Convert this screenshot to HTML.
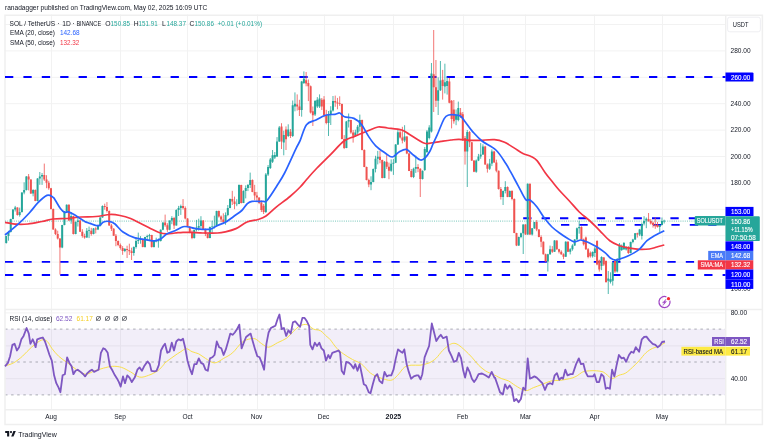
<!DOCTYPE html><html><head><meta charset="utf-8"><style>html,body{margin:0;padding:0;background:#fff;width:768px;height:444px;overflow:hidden}svg{display:block;will-change:transform}text{font-family:"Liberation Sans", sans-serif}</style></head><body>
<svg width="768" height="444" viewBox="0 0 768 444">
<rect width="768" height="444" fill="#ffffff"/>
<text x="5" y="10.4" font-size="6.6" fill="#131722">ranadagger published on TradingView.com, May 02, 2025 16:09 UTC</text>
<path d="M51.5 14.5V409.5 M120.5 14.5V409.5 M187.5 14.5V409.5 M257.5 14.5V409.5 M324.5 14.5V409.5 M393.5 14.5V409.5 M463.5 14.5V409.5 M525.5 14.5V409.5 M594.5 14.5V409.5 M662.5 14.5V409.5 M4.5 288.50H725.5 M4.5 262.10H725.5 M4.5 235.70H725.5 M4.5 209.30H725.5 M4.5 182.90H725.5 M4.5 156.50H725.5 M4.5 130.10H725.5 M4.5 103.70H725.5 M4.5 77.30H725.5 M4.5 50.90H725.5 M4.5 24.50H725.5 M4.5 312.90H725.5 M4.5 345.90H725.5 M4.5 378.70H725.5" stroke="#f2f2f2" stroke-width="1" fill="none"/>
<rect x="5.0" y="329.1" width="720.5" height="65.8" fill="#7e57c2" fill-opacity="0.1"/>
<path d="M5.0 329.1H725.5" stroke="#787b86" stroke-opacity="0.6" stroke-width="1" stroke-dasharray="2.5 3.6" fill="none"/>
<path d="M5.0 362.0H725.5" stroke="#787b86" stroke-opacity="0.6" stroke-width="1" stroke-dasharray="2.5 3.6" fill="none"/>
<path d="M5.0 394.9H725.5" stroke="#787b86" stroke-opacity="0.6" stroke-width="1" stroke-dasharray="2.5 3.6" fill="none"/>
<path d="M5 15.2H762.4V424.4H5Z M725.7 15.2V424.4 M5 309.5H762.4 M5 409.7H762.4" stroke="#efefef" stroke-width="1.5" fill="none"/>
<path d="M5.0 221.1H725.5" stroke="#089981" stroke-opacity="0.7" stroke-width="0.8" stroke-dasharray="1 1.2" fill="none"/>
<path d="M5 77.00H725.5" stroke="#0000ff" stroke-width="1.8" stroke-dasharray="8.3 10.1" fill="none"/>
<path d="M523.2 218.24H725.5" stroke="#0000ff" stroke-width="1.8" stroke-dasharray="8.3 10.1" fill="none"/>
<path d="M561 224.84H725.5" stroke="#0000ff" stroke-width="1.8" stroke-dasharray="8.3 10.1" fill="none"/>
<path d="M5 261.80H725.5" stroke="#0000ff" stroke-width="1.8" stroke-dasharray="8.3 10.1" fill="none"/>
<path d="M5 275.00H725.5" stroke="#0000ff" stroke-width="1.8" stroke-dasharray="8.3 10.1" fill="none"/>
<path d="M6.24 235.8V243.6 M8.48 230.8V240.7 M10.72 218.7V232.5 M12.95 209.2V219.4 M15.19 205.9V211.5 M19.67 207.6V216.6 M21.91 192.3V212.6 M24.14 182.3V194.3 M26.38 176.1V190.5 M33.1 189.2V196.3 M37.57 178.1V201.4 M39.81 172.0V184.8 M42.05 173.0V184.9 M62.19 224.8V248.2 M64.43 211.0V225.3 M66.67 204.4V211.9 M71.14 212.0V223.8 M75.62 221.5V234.3 M77.86 216.5V226.5 M86.81 228.0V237.9 M89.05 226.6V238.1 M93.52 228.0V234.4 M98.0 224.8V230.1 M100.24 217.2V226.5 M102.47 205.4V217.7 M124.85 248.0V252.2 M133.81 246.4V255.7 M136.04 237.3V248.6 M138.28 232.6V244.0 M140.52 236.1V243.7 M145.0 236.8V247.6 M147.23 234.7V240.9 M149.47 233.8V241.2 M153.95 240.7V247.5 M156.19 237.7V242.3 M158.42 238.5V247.7 M160.66 229.4V241.5 M162.9 222.4V230.3 M169.61 220.4V230.3 M171.85 216.2V224.2 M176.33 209.3V225.7 M178.57 205.9V216.0 M180.8 204.6V214.9 M194.23 229.8V238.6 M196.47 219.9V231.5 M198.71 218.7V230.7 M200.95 216.2V228.1 M209.9 226.5V238.3 M212.14 220.7V233.7 M214.37 215.7V228.5 M216.61 210.7V226.5 M225.56 212.4V224.8 M227.8 205.0V216.2 M230.04 198.5V208.3 M236.75 199.2V206.2 M238.99 184.4V204.2 M243.47 190.3V203.1 M245.71 185.4V198.4 M247.94 184.0V191.1 M250.18 172.6V188.0 M265.85 173.0V213.0 M268.09 165.0V176.0 M270.32 158.0V169.0 M272.56 150.0V163.0 M274.8 152.0V159.0 M277.04 137.1V157.0 M279.28 126.0V142.0 M283.75 130.7V155.3 M288.23 124.3V137.1 M292.7 100.5V137.0 M294.94 92.4V111.3 M301.66 80.9V116.7 M303.89 71.4V84.0 M315.08 100.0V116.0 M317.32 97.1V108.0 M319.56 94.4V108.0 M328.51 111.0V136.0 M330.75 106.2V125.0 M332.99 96.0V111.6 M346.42 120.9V148.2 M348.65 113.5V127.5 M355.37 129.7V136.9 M357.61 125.0V134.4 M359.84 114.6V131.4 M371.03 176.3V190.2 M373.27 168.5V182.3 M375.51 155.8V172.4 M377.75 150.9V164.4 M384.46 161.1V178.2 M391.18 159.4V171.8 M393.41 159.1V174.9 M395.65 144.1V163.1 M397.89 129.3V145.0 M404.6 125.2V142.1 M413.56 167.7V178.1 M415.79 155.7V172.9 M422.51 170.5V179.5 M424.75 147.0V171.0 M426.98 130.0V153.0 M429.22 125.2V139.4 M431.46 63.0V132.5 M438.17 77.3V115.0 M440.41 61.0V91.0 M444.89 63.7V93.4 M447.13 77.3V94.6 M456.08 109.5V125.2 M458.32 101.6V121.3 M467.27 130.0V187.0 M476.22 159.5V172.8 M478.46 153.9V161.1 M480.7 143.1V158.8 M482.93 144.3V155.0 M489.65 158.9V170.0 M491.89 149.4V166.1 M503.08 190.4V205.0 M505.31 181.2V193.4 M509.79 190.4V197.2 M518.74 236.6V246.0 M520.98 232.7V238.2 M523.22 224.3V254.0 M527.69 183.4V234.9 M532.17 228.0V235.5 M534.41 221.9V228.9 M547.84 253.8V271.5 M550.07 245.6V254.9 M554.55 240.1V252.0 M565.74 241.2V256.9 M570.22 248.1V254.4 M572.45 244.2V250.7 M574.69 239.0V245.9 M576.93 227.5V239.5 M579.17 220.7V233.7 M592.6 251.4V257.6 M594.83 247.0V257.0 M601.55 256.3V270.2 M608.26 271.0V294.0 M610.5 272.3V283.5 M612.74 261.8V285.6 M617.21 258.0V272.5 M619.45 243.0V261.0 M621.69 244.5V251.0 M623.93 242.0V250.0 M626.17 246.2V250.5 M630.64 241.6V253.4 M632.88 238.8V243.3 M635.12 233.0V240.0 M639.59 228.9V236.1 M641.83 222.5V239.5 M644.07 216.2V225.4 M646.31 217.5V228.2 M659.74 225.0V232.0 M661.97 217.5V225.3 M664.21 219.7V223.5" stroke="#26a69a" stroke-width="0.8" fill="none"/>
<path d="M17.43 207.3V215.6 M28.62 174.0V190.4 M30.86 179.3V194.0 M35.33 189.4V201.2 M44.29 163.6V181.0 M46.52 175.2V188.2 M48.76 180.8V189.8 M51.0 187.9V209.5 M53.24 208.5V229.8 M55.48 228.3V235.0 M57.71 230.7V239.5 M59.95 238.2V274.6 M68.9 204.3V220.8 M73.38 215.7V234.5 M80.09 219.9V232.0 M82.33 229.2V237.7 M84.57 233.7V238.7 M91.28 227.9V235.7 M95.76 227.2V233.4 M104.71 203.7V209.7 M106.95 202.1V212.5 M109.19 210.4V225.8 M111.43 223.8V231.0 M113.66 228.1V236.0 M115.9 234.0V246.2 M118.14 240.4V246.2 M120.38 243.5V249.6 M122.62 246.1V254.8 M127.09 245.7V258.0 M129.33 243.7V255.0 M131.57 247.7V260.0 M142.76 238.5V247.3 M151.71 234.8V247.6 M165.14 214.6V226.8 M167.38 223.2V231.9 M174.09 216.9V229.0 M183.04 199.1V209.4 M185.28 206.4V219.4 M187.52 218.2V227.2 M189.76 226.1V233.2 M191.99 230.3V239.2 M203.18 220.1V229.3 M205.42 228.5V236.1 M207.66 233.7V238.5 M218.85 210.5V217.6 M221.09 215.4V222.2 M223.33 213.3V223.7 M232.28 190.8V205.0 M234.52 196.6V209.2 M241.23 184.7V203.5 M252.42 179.4V192.2 M254.66 184.8V200.2 M256.9 191.9V200.9 M259.13 197.4V204.1 M261.37 200.3V212.0 M263.61 204.0V214.0 M281.51 123.2V149.0 M285.99 126.4V150.0 M290.47 129.0V138.0 M297.18 94.4V110.6 M299.42 99.8V116.0 M306.13 72.0V86.3 M308.37 79.5V101.1 M310.61 85.5V113.5 M312.85 106.5V126.0 M321.8 98.0V110.0 M324.04 96.1V117.2 M326.27 109.8V124.3 M335.23 95.6V106.8 M337.46 97.9V109.3 M339.7 96.3V105.9 M341.94 103.6V139.4 M344.18 135.1V149.1 M350.89 119.8V133.8 M353.13 130.0V142.6 M362.08 119.6V150.4 M364.32 149.4V167.2 M366.56 166.6V180.4 M368.8 178.7V187.2 M379.99 150.9V163.3 M382.22 159.6V178.4 M386.7 154.7V169.0 M388.94 162.6V179.2 M400.13 130.5V138.5 M402.37 126.8V143.4 M406.84 136.2V154.2 M409.08 152.9V171.1 M411.32 169.0V177.5 M418.03 164.2V172.2 M420.27 168.2V197.0 M433.7 30.0V112.0 M435.94 60.0V107.0 M442.65 69.9V99.6 M449.36 77.9V103.3 M451.6 100.0V128.4 M453.84 100.0V123.7 M460.55 108.0V118.0 M462.79 112.0V141.0 M465.03 136.0V164.6 M469.51 131.1V147.1 M471.74 141.9V161.0 M473.98 160.3V172.2 M485.17 145.8V164.8 M487.41 163.4V172.6 M494.12 150.8V162.8 M496.36 159.7V172.3 M498.6 170.5V189.6 M500.84 187.0V199.5 M507.55 186.4V197.2 M512.03 190.2V200.3 M514.27 198.4V233.2 M516.5 232.8V246.1 M525.46 224.2V234.9 M529.93 183.5V235.0 M536.65 220.1V231.2 M538.88 229.1V237.3 M541.12 235.3V247.2 M543.36 241.4V254.6 M545.6 253.6V261.8 M552.31 246.1V252.9 M556.79 240.3V249.8 M559.03 248.8V253.4 M561.26 250.3V254.9 M563.5 253.3V259.2 M567.98 241.2V252.1 M581.41 226.3V239.5 M583.64 238.6V245.5 M585.88 236.5V250.0 M588.12 248.0V258.3 M590.36 251.4V257.6 M597.07 240.2V265.3 M599.31 259.7V271.6 M603.79 257.0V266.0 M606.02 260.4V282.8 M614.98 259.7V273.0 M628.4 246.1V253.9 M637.36 232.7V237.6 M648.55 213.0V221.6 M650.78 219.0V224.5 M653.02 221.6V227.6 M655.26 217.5V228.8 M657.5 221.9V227.6" stroke="#ef5350" stroke-width="0.8" fill="none"/>
<path d="M6.24 236.0V243.0 M8.48 232.0V236.0 M10.72 219.0V232.0 M12.95 209.6V219.0 M15.19 207.5V209.6 M19.67 212.0V215.0 M21.91 192.5V212.0 M24.14 190.0V192.5 M26.38 176.4V190.0 M33.1 190.0V193.5 M37.57 178.5V201.0 M39.81 176.4V178.5 M42.05 175.0V176.4 M62.19 225.0V247.6 M64.43 211.5V225.0 M66.67 204.8V211.5 M71.14 216.0V220.5 M75.62 222.0V234.0 M77.86 220.5V222.0 M86.81 230.7V237.4 M89.05 230.3V231.0 M93.52 228.4V234.0 M98.0 226.0V229.5 M100.24 217.5V226.0 M102.47 206.0V217.5 M124.85 249.0V251.0 M133.81 247.0V253.0 M136.04 241.0V247.0 M138.28 239.9V241.0 M140.52 239.0V239.9 M145.0 237.0V247.0 M147.23 236.0V237.0 M149.47 235.0V236.0 M153.95 241.0V247.0 M156.19 240.7V241.3 M158.42 240.7V241.3 M160.66 229.7V241.0 M162.9 222.6V229.7 M169.61 220.6V229.7 M171.85 218.1V220.6 M176.33 210.0V225.6 M178.57 207.9V210.0 M180.8 206.0V207.9 M194.23 230.0V238.0 M196.47 227.7V230.0 M198.71 226.0V227.7 M200.95 220.5V226.0 M209.9 227.0V238.0 M212.14 226.4V227.1 M214.37 225.9V226.6 M216.61 211.0V226.0 M225.56 215.0V222.0 M227.8 208.0V215.0 M230.04 199.0V208.0 M236.75 203.7V204.3 M238.99 185.0V204.0 M243.47 191.0V203.0 M245.71 188.1V191.0 M247.94 185.0V188.1 M250.18 180.0V185.0 M265.85 174.6V212.0 M268.09 167.0V174.6 M270.32 159.6V168.0 M272.56 155.3V161.8 M274.8 155.0V157.5 M277.04 141.4V156.4 M279.28 127.5V141.4 M283.75 135.0V142.5 M288.23 129.6V136.0 M292.7 105.2V136.0 M294.94 103.8V106.5 M301.66 81.5V110.0 M303.89 78.8V82.9 M315.08 101.1V114.6 M317.32 99.8V106.5 M319.56 98.4V106.5 M328.51 115.0V123.0 M330.75 110.5V115.0 M332.99 101.0V110.5 M346.42 121.5V148.0 M348.65 120.0V121.5 M355.37 132.6V135.7 M357.61 126.8V132.6 M359.84 120.0V126.8 M371.03 182.0V184.6 M373.27 169.0V182.0 M375.51 158.7V169.0 M377.75 156.7V158.7 M384.46 161.7V178.0 M391.18 163.8V170.8 M393.41 162.7V163.8 M395.65 144.5V162.7 M397.89 132.3V144.5 M404.6 136.4V140.4 M413.56 168.8V177.0 M415.79 167.0V168.8 M422.51 170.8V179.0 M424.75 148.9V170.0 M426.98 131.5V152.0 M429.22 127.6V137.9 M431.46 73.6V131.5 M438.17 90.3V100.8 M440.41 80.4V90.3 M444.89 82.3V86.6 M447.13 81.0V86.0 M456.08 115.0V119.7 M458.32 107.9V120.0 M467.27 132.0V151.4 M476.22 160.6V171.7 M478.46 156.5V160.6 M480.7 154.5V156.5 M482.93 146.4V154.5 M489.65 163.6V168.7 M491.89 151.4V163.6 M503.08 191.0V197.0 M505.31 187.0V191.0 M509.79 191.0V197.0 M518.74 236.9V245.5 M520.98 233.2V236.9 M523.22 224.5V233.2 M527.69 183.7V234.4 M532.17 228.2V234.4 M534.41 222.0V228.2 M547.84 254.2V261.6 M550.07 249.3V254.2 M554.55 240.6V251.7 M565.74 241.8V256.7 M570.22 249.3V251.7 M572.45 245.5V249.3 M574.69 239.4V245.5 M576.93 228.2V239.4 M579.17 227.0V228.2 M592.6 252.0V256.3 M594.83 248.6V253.0 M601.55 257.0V266.0 M608.26 278.6V280.7 M610.5 279.3V282.0 M612.74 262.5V280.7 M617.21 259.0V271.6 M619.45 244.4V260.4 M621.69 246.0V249.9 M623.93 243.0V249.3 M626.17 247.0V249.4 M630.64 242.0V253.0 M632.88 239.5V242.0 M635.12 233.3V239.5 M639.59 229.6V234.5 M641.83 224.1V236.0 M644.07 221.0V223.5 M646.31 218.7V220.6 M659.74 225.0V227.0 M661.97 221.0V225.0 M664.21 220.8V221.6" stroke="#26a69a" stroke-width="2" fill="none"/>
<path d="M17.43 207.5V215.0 M28.62 176.4V179.6 M30.86 179.6V193.5 M35.33 190.0V201.0 M44.29 175.0V179.6 M46.52 179.6V182.8 M48.76 182.8V188.2 M51.0 188.2V209.0 M53.24 209.0V229.5 M55.48 229.5V234.0 M57.71 234.0V238.5 M59.95 238.5V247.6 M68.9 204.8V220.5 M73.38 216.0V234.0 M80.09 220.5V231.8 M82.33 231.8V236.0 M84.57 236.0V237.4 M91.28 230.7V234.0 M95.76 228.4V229.5 M104.71 206.0V207.0 M106.95 207.0V211.0 M109.19 211.0V225.6 M111.43 225.6V228.7 M113.66 228.7V235.8 M115.9 235.8V240.9 M118.14 240.9V245.0 M120.38 245.0V248.0 M122.62 248.0V251.0 M127.09 249.0V250.0 M129.33 250.0V251.3 M131.57 251.3V253.0 M142.76 239.0V247.0 M151.71 235.0V247.0 M165.14 222.6V225.3 M167.38 225.3V229.7 M174.09 218.1V225.6 M183.04 206.0V208.0 M185.28 208.0V218.5 M187.52 218.5V226.7 M189.76 226.7V233.0 M191.99 233.0V238.0 M203.18 220.5V228.9 M205.42 228.9V234.0 M207.66 234.0V238.0 M218.85 211.0V216.5 M221.09 216.5V219.5 M223.33 219.5V222.0 M232.28 199.0V201.5 M234.52 201.5V204.0 M241.23 185.0V203.0 M252.42 180.0V192.0 M254.66 192.0V195.6 M256.9 195.6V197.6 M259.13 197.6V203.0 M261.37 202.4V210.0 M263.61 205.7V212.0 M281.51 126.4V141.4 M285.99 129.6V139.3 M290.47 131.8V136.0 M297.18 104.5V106.5 M299.42 106.5V110.0 M306.13 80.2V83.6 M308.37 82.9V86.3 M310.61 86.3V112.6 M312.85 111.3V115.3 M321.8 99.8V106.5 M324.04 99.4V115.0 M326.27 115.0V123.0 M335.23 101.0V102.6 M337.46 102.6V103.4 M339.7 103.3V104.0 M341.94 104.0V139.0 M344.18 139.0V148.0 M350.89 120.0V132.6 M353.13 132.6V135.7 M362.08 120.0V150.0 M364.32 150.0V167.0 M366.56 167.0V180.0 M368.8 180.0V184.6 M379.99 156.7V160.0 M382.22 160.0V178.0 M386.7 161.7V166.8 M388.94 166.8V170.8 M400.13 132.3V137.4 M402.37 137.4V140.4 M406.84 136.4V153.6 M409.08 153.6V171.0 M411.32 171.0V177.0 M418.03 167.0V168.8 M420.27 168.8V179.0 M433.7 74.2V87.2 M435.94 87.2V100.8 M442.65 79.8V86.0 M449.36 81.6V102.7 M451.6 100.8V118.9 M453.84 109.5V121.3 M460.55 112.6V115.8 M462.79 114.2V140.0 M465.03 138.0V151.4 M469.51 132.0V142.3 M471.74 142.3V160.6 M473.98 160.6V171.7 M485.17 146.4V164.6 M487.41 164.6V168.7 M494.12 151.4V162.6 M496.36 162.6V170.7 M498.6 170.7V189.0 M500.84 189.0V197.0 M507.55 187.0V197.0 M512.03 191.0V199.0 M514.27 199.0V233.0 M516.5 233.0V245.5 M525.46 224.5V234.4 M529.93 183.7V234.4 M536.65 222.0V229.5 M538.88 229.5V236.9 M541.12 236.9V241.8 M543.36 241.8V254.2 M545.6 254.2V261.6 M552.31 249.3V251.7 M556.79 240.6V249.3 M559.03 249.3V251.7 M561.26 251.7V254.2 M563.5 254.2V256.7 M567.98 241.8V251.7 M581.41 227.0V239.4 M583.64 239.4V244.3 M585.88 237.4V249.3 M588.12 249.3V257.0 M590.36 252.8V256.3 M597.07 240.9V264.6 M599.31 260.4V269.5 M603.79 257.6V264.6 M606.02 261.0V282.0 M614.98 260.4V271.6 M628.4 247.0V253.0 M637.36 233.3V234.5 M648.55 219.0V221.3 M650.78 221.0V223.5 M653.02 222.8V225.0 M655.26 224.7V226.3 M657.5 224.7V227.0" stroke="#ef5350" stroke-width="2" fill="none"/>
<path d="M5.0 222.3C7.0 222.6 12.9 223.9 16.7 224.2C20.5 224.5 23.8 224.4 28.0 224.0C32.2 223.6 37.8 222.3 42.0 221.5C46.2 220.7 48.8 219.5 53.0 219.0C57.2 218.5 62.3 218.8 67.0 218.5C71.7 218.2 76.2 217.3 81.0 217.0C85.8 216.7 91.2 216.9 96.0 216.5C100.8 216.1 106.0 214.7 110.0 214.5C114.0 214.3 116.6 214.8 120.0 215.5C123.4 216.2 127.1 217.2 130.6 218.5C134.0 219.8 137.3 221.9 140.7 223.6C144.1 225.3 147.8 227.2 150.9 228.7C154.0 230.2 156.3 231.7 159.0 232.5C161.7 233.3 164.3 233.7 167.0 233.8C169.7 233.9 172.3 233.2 175.0 233.0C177.7 232.8 179.7 232.4 183.0 232.3C186.3 232.2 191.3 232.5 195.0 232.6C198.7 232.7 201.2 232.9 205.0 233.0C208.8 233.1 214.2 233.2 217.6 233.0C221.0 232.8 222.3 232.5 225.4 231.8C228.5 231.1 232.4 230.2 236.0 228.6C239.6 227.0 243.3 223.5 247.0 222.0C250.7 220.5 254.8 220.5 258.0 219.5C261.2 218.5 262.9 218.1 266.0 216.0C269.1 213.9 272.5 210.1 276.5 206.8C280.5 203.6 286.1 199.8 290.0 196.5C293.9 193.2 297.5 189.8 300.2 187.0C302.9 184.2 303.4 183.2 306.2 180.0C309.0 176.8 312.9 172.2 317.0 168.0C321.1 163.8 326.0 159.1 330.5 154.6C335.0 150.1 340.0 144.0 344.0 141.0C348.0 138.0 350.4 138.2 354.5 136.4C358.6 134.7 364.7 132.1 368.6 130.5C372.5 128.9 374.9 127.4 378.0 127.0C381.1 126.6 383.6 127.5 387.5 128.0C391.4 128.5 398.1 129.0 401.7 130.0C405.2 131.0 406.0 132.3 408.8 134.0C411.6 135.7 415.5 138.4 418.3 140.0C421.1 141.6 422.6 143.1 425.4 143.5C428.2 143.9 432.4 142.7 435.0 142.3C437.6 142.0 438.3 141.8 441.0 141.4C443.7 141.0 448.0 140.3 451.0 140.0C454.0 139.7 456.0 139.3 459.2 139.4C462.4 139.5 466.5 140.2 470.0 140.3C473.5 140.5 476.2 140.4 480.3 140.3C484.4 140.2 490.4 139.4 494.5 139.7C498.6 140.0 501.2 140.9 504.6 142.3C508.0 143.8 511.7 146.5 514.8 148.4C517.8 150.3 520.2 152.2 522.9 153.5C525.6 154.8 528.6 155.3 531.0 156.5C533.4 157.7 534.6 157.9 537.0 160.6C539.4 163.3 542.5 169.0 545.2 172.7C547.9 176.4 550.9 180.0 553.3 183.0C555.7 186.0 556.8 187.5 559.5 190.5C562.2 193.5 566.1 197.4 569.4 201.0C572.7 204.6 575.9 208.7 579.3 212.0C582.7 215.3 586.6 217.9 590.0 221.0C593.4 224.1 596.6 227.5 599.9 230.8C603.2 234.1 606.5 238.2 609.8 240.7C613.1 243.2 616.4 244.4 619.7 245.7C623.0 246.9 626.3 247.6 629.6 248.2C632.9 248.8 636.2 249.3 639.5 249.4C642.8 249.5 646.5 249.4 649.4 249.0C652.3 248.6 654.3 247.7 656.8 247.0C659.3 246.3 663.0 245.3 664.3 245.0" stroke="#f23645" stroke-width="1.7" fill="none" stroke-linejoin="round"/>
<path d="M5.0 235.0C7.1 233.3 13.6 228.4 17.6 224.7C21.7 221.0 25.9 216.7 29.3 213.0C32.7 209.3 35.1 205.6 38.0 202.7C40.9 199.8 44.4 196.4 46.9 195.4C49.4 194.4 51.4 196.2 52.7 196.9C54.1 197.6 53.7 197.8 55.0 199.7C56.3 201.6 58.8 206.4 60.4 208.5C62.0 210.6 63.1 211.7 64.5 212.3C65.8 212.9 66.9 211.5 68.5 211.9C70.1 212.3 72.2 213.6 74.0 214.6C75.8 215.6 77.5 216.9 79.3 218.0C81.1 219.1 82.9 220.5 84.7 221.4C86.5 222.3 88.3 222.7 90.1 223.4C91.9 224.1 93.9 225.1 95.5 225.4C97.1 225.7 98.2 226.0 99.6 225.4C100.9 224.8 102.0 222.7 103.6 222.0C105.2 221.3 107.1 221.1 109.0 221.4C110.9 221.7 112.7 222.2 115.0 224.0C117.3 225.8 119.7 229.7 123.0 232.0C126.3 234.3 131.0 236.6 135.0 237.9C139.0 239.2 143.5 239.3 146.8 239.8C150.1 240.3 152.6 241.1 155.0 240.9C157.4 240.7 159.0 240.0 161.0 238.8C163.0 237.6 164.7 235.2 167.0 233.8C169.3 232.5 172.3 231.9 175.0 230.7C177.7 229.5 180.7 227.3 183.0 226.7C185.3 226.1 186.9 226.7 189.0 227.0C191.1 227.3 192.4 228.2 195.8 228.6C199.2 229.0 206.1 229.8 209.7 229.3C213.3 228.8 215.0 226.6 217.6 225.4C220.2 224.2 222.8 223.8 225.4 222.3C228.0 220.9 230.6 218.7 233.3 216.7C236.0 214.7 239.5 212.6 241.8 210.5C244.1 208.4 245.3 205.5 247.0 204.0C248.7 202.5 249.3 201.8 252.0 201.4C254.7 201.0 260.5 201.6 263.0 201.4C265.5 201.2 264.8 203.0 267.0 200.5C269.2 198.0 273.6 191.1 276.5 186.5C279.4 181.9 281.4 179.3 284.6 173.0C287.9 166.7 293.4 154.0 296.0 148.6C298.6 143.2 298.4 144.4 300.2 140.4C301.9 136.4 303.9 128.1 306.5 124.7C309.1 121.3 312.8 121.6 316.0 120.0C319.2 118.4 322.3 116.2 325.5 115.2C328.7 114.2 332.6 114.7 335.0 114.3C337.4 113.9 338.1 112.6 339.7 113.0C341.3 113.4 342.0 115.9 344.4 116.8C346.8 117.7 351.0 117.1 353.9 118.4C356.8 119.7 359.1 121.5 361.5 124.5C363.9 127.5 366.2 132.8 368.6 136.4C371.0 140.0 372.9 143.0 375.7 145.8C378.5 148.6 382.4 151.1 385.2 153.0C388.0 154.9 389.9 157.2 392.3 157.0C394.7 156.8 397.0 153.0 399.4 151.7C401.8 150.4 404.1 148.8 406.5 149.4C408.9 150.0 411.2 153.5 413.6 155.3C416.0 157.1 418.6 159.6 420.6 160.0C422.6 160.4 423.8 159.1 425.4 157.6C427.0 156.1 428.7 153.3 430.0 151.0C431.3 148.7 431.8 146.6 433.0 144.0C434.2 141.4 435.2 139.4 437.1 135.2C439.0 131.0 442.2 122.0 444.2 118.6C446.2 115.2 446.9 115.6 448.9 115.0C450.9 114.4 454.0 114.8 456.0 115.0C458.0 115.2 459.1 115.1 460.7 116.3C462.3 117.5 463.5 119.7 465.5 122.2C467.5 124.8 469.9 128.5 472.6 131.6C475.4 134.7 478.1 137.9 482.0 141.0C485.9 144.1 491.9 146.2 495.9 150.0C499.9 153.8 503.3 159.8 505.8 163.5C508.3 167.2 508.7 168.5 510.8 172.2C512.9 175.9 515.7 181.3 518.2 185.8C520.7 190.3 523.6 197.0 525.6 199.4C527.6 201.8 528.1 198.7 530.0 200.0C531.9 201.3 534.6 203.9 537.0 207.0C539.4 210.1 542.1 215.0 544.6 218.3C547.1 221.6 549.5 224.6 552.0 227.0C554.5 229.4 557.0 231.2 559.5 233.0C562.0 234.8 564.5 236.5 567.0 238.0C569.5 239.5 572.0 241.5 574.3 241.8C576.5 242.1 578.9 240.1 580.5 240.0C582.1 239.9 582.6 240.5 584.2 241.0C585.8 241.5 587.9 242.2 590.0 243.2C592.1 244.2 594.5 245.4 597.0 247.0C599.5 248.6 603.1 251.1 605.3 252.9C607.5 254.7 608.7 256.8 610.4 258.0C612.1 259.2 613.8 260.0 615.5 260.1C617.2 260.2 618.5 259.5 620.5 258.8C622.5 258.1 625.0 257.2 627.3 256.2C629.5 255.2 631.9 254.2 634.0 252.9C636.1 251.6 637.8 250.6 640.0 248.6C642.2 246.6 644.6 242.8 647.0 240.7C649.4 238.6 651.5 237.5 654.4 235.8C657.3 234.2 662.6 231.6 664.3 230.8" stroke="#2962ff" stroke-width="1.7" fill="none" stroke-linejoin="round"/>
<path d="M5.0 365.9C6.4 365.4 10.6 364.5 13.5 362.9C16.4 361.3 19.5 358.8 22.5 356.2C25.5 353.5 28.3 349.9 31.5 347.2C34.7 344.5 39.0 340.9 41.7 340.0C44.3 339.0 45.6 340.1 47.3 341.5C49.0 342.9 49.9 345.8 51.8 348.3C53.7 350.7 55.9 353.7 58.6 356.2C61.2 358.6 64.6 360.7 67.6 362.9C70.6 365.2 73.6 367.8 76.6 369.7C79.6 371.6 82.6 374.0 85.6 374.2C88.6 374.4 91.6 371.8 94.6 370.8C97.6 369.8 100.6 368.9 103.6 368.1C106.6 367.4 109.6 366.4 112.6 366.3C115.6 366.2 118.6 366.5 121.6 367.4C124.6 368.4 127.6 370.3 130.6 371.9C133.6 373.6 136.6 376.6 139.6 377.1C142.6 377.7 145.6 376.4 148.6 375.3C151.7 374.3 155.2 372.5 157.7 370.8C160.1 369.1 162.1 366.5 163.3 365.2C164.5 363.9 163.2 364.4 165.0 362.9C166.8 361.4 171.4 358.0 174.0 356.2C176.6 354.3 178.7 352.9 180.8 351.7C182.8 350.4 184.5 348.7 186.4 348.7C188.3 348.7 190.0 350.8 192.0 351.7C194.1 352.5 196.5 352.8 198.8 353.9C201.0 355.0 202.9 356.9 205.5 358.4C208.2 359.9 211.5 362.9 214.5 362.9C217.6 362.9 220.6 360.1 223.6 358.4C226.6 356.7 229.6 355.4 232.6 352.8C235.6 350.2 238.9 344.9 241.6 342.7C244.2 340.4 246.1 339.9 248.3 339.3C250.6 338.6 252.8 338.1 255.1 338.8C257.3 339.6 259.6 342.4 261.8 343.8C264.1 345.2 266.0 347.3 268.6 347.2C271.2 347.0 274.6 344.2 277.6 342.7C280.6 341.2 284.0 340.0 286.6 338.2C289.2 336.3 291.1 333.5 293.4 331.4C295.6 329.3 297.9 326.9 300.1 325.8C302.4 324.6 304.6 324.1 306.9 324.6C309.1 325.2 311.4 328.1 313.6 329.1C315.9 330.2 318.2 329.4 320.4 330.7C322.7 332.0 325.6 335.6 327.2 337.0C328.8 338.5 328.4 337.4 330.0 339.3C331.6 341.2 334.5 345.8 336.8 348.3C339.0 350.7 340.9 352.0 343.5 353.9C346.1 355.8 349.5 357.9 352.5 359.5C355.5 361.2 358.5 361.8 361.5 364.1C364.5 366.3 367.5 370.8 370.5 373.1C373.5 375.3 376.2 376.4 379.5 377.6C382.9 378.8 387.8 380.6 390.8 380.3C393.8 379.9 395.3 377.5 397.6 375.3C399.8 373.2 402.1 369.1 404.3 367.4C406.6 365.7 408.5 365.6 411.1 365.2C413.7 364.8 417.1 365.6 420.1 365.2C423.1 364.8 426.5 364.1 429.1 362.9C431.7 361.8 433.6 360.5 435.9 358.4C438.1 356.4 440.4 352.8 442.6 350.5C444.9 348.3 447.5 346.1 449.4 344.9C451.2 343.7 452.4 343.3 453.9 343.3C455.4 343.3 456.5 343.7 458.4 344.9C460.3 346.1 462.9 348.5 465.1 350.5C467.4 352.6 469.6 354.9 471.9 357.3C474.1 359.7 476.4 362.9 478.6 365.2C480.9 367.4 483.2 369.3 485.4 370.8C487.7 372.3 490.6 373.4 492.2 374.2C493.8 374.9 493.4 374.6 495.0 375.3C496.6 376.1 499.5 377.8 501.8 378.7C504.0 379.6 506.3 379.8 508.5 380.9C510.8 382.1 512.5 383.8 515.3 385.5C518.1 387.1 522.4 390.3 525.4 390.6C528.4 391.0 530.5 388.8 533.3 387.7C536.1 386.7 539.3 385.5 542.3 384.3C545.3 383.2 548.3 381.6 551.3 380.9C554.3 380.3 557.3 380.6 560.3 380.3C563.3 379.9 566.7 379.3 569.3 378.7C572.0 378.1 573.8 377.6 576.1 376.4C578.3 375.3 580.6 372.9 582.8 371.9C585.1 371.0 587.3 371.0 589.6 370.8C591.8 370.6 594.1 370.6 596.4 370.8C598.6 371.0 601.2 371.2 603.1 371.9C605.0 372.7 606.1 374.2 607.6 375.3C609.1 376.4 610.2 378.7 612.1 378.7C614.0 378.7 616.6 376.3 618.9 375.3C621.1 374.4 623.4 374.4 625.6 373.1C627.9 371.7 630.1 369.5 632.4 367.4C634.6 365.4 636.9 363.1 639.1 360.7C641.4 358.2 643.6 354.9 645.9 352.8C648.2 350.7 650.4 349.4 652.7 348.3C654.9 347.2 657.3 347.0 659.4 346.0C661.5 345.1 664.1 343.2 665.0 342.7" stroke="#f9e04b" stroke-width="1" fill="none" stroke-linejoin="round"/>
<polyline points="5.0,366.3 7.9,362.9 10.1,356.2 12.4,344.9 14.6,343.8 16.9,350.5 19.1,347.2 21.4,339.3 23.6,335.9 26.6,328.0 28.8,333.6 30.4,343.8 32.7,339.3 34.2,342.7 35.6,347.2 37.2,339.3 40.5,338.2 42.8,337.5 45.0,341.5 47.3,348.3 49.5,355.0 51.8,360.7 54.1,375.3 56.3,383.2 58.6,387.7 60.4,392.2 62.6,375.3 64.9,374.2 67.1,357.3 69.4,362.9 71.6,366.3 73.4,374.2 75.5,370.8 77.7,369.7 80.6,371.9 83.3,374.2 85.1,376.4 87.4,373.1 90.1,370.8 91.9,369.7 94.1,371.9 96.4,370.8 98.6,369.7 100.9,352.8 103.2,348.3 105.4,349.4 107.7,352.8 109.9,366.3 112.6,370.8 114.9,375.3 117.1,378.7 118.9,382.1 120.7,386.6 123.0,376.4 125.0,383.2 127.3,375.3 129.5,377.6 131.8,382.1 134.7,377.6 137.4,369.7 139.6,367.4 141.9,370.8 144.1,366.3 147.5,361.4 149.8,364.1 151.4,370.8 154.3,371.3 156.5,370.8 158.8,365.2 161.0,350.5 163.3,346.0 165.0,343.8 167.3,352.8 169.5,351.7 171.8,342.7 174.0,350.5 176.3,341.5 178.5,339.3 180.8,340.4 183.0,338.8 185.3,348.3 187.5,360.7 189.8,368.6 192.0,374.2 194.3,364.1 196.5,364.1 198.8,358.4 201.0,362.9 203.3,364.1 205.5,369.7 207.8,370.8 210.0,358.4 212.3,357.3 214.5,355.0 216.8,341.5 219.1,347.2 221.3,348.3 223.6,355.0 225.8,349.4 228.1,341.5 230.3,333.6 232.6,334.8 234.8,332.5 237.1,329.1 239.3,324.6 241.6,348.3 243.8,342.7 246.1,337.0 248.3,335.2 250.6,333.6 252.8,341.5 255.1,349.4 257.3,356.2 259.6,357.3 261.8,362.9 264.1,369.7 266.4,343.8 268.6,332.5 270.9,328.0 273.1,326.9 275.4,325.8 277.6,319.0 279.4,314.5 281.7,329.1 283.9,328.0 286.2,335.9 288.4,330.3 290.7,333.6 292.9,322.4 295.2,321.3 297.9,324.6 300.1,326.9 302.4,317.9 304.6,317.9 306.9,321.3 309.1,325.8 310.3,344.9 312.5,349.4 314.8,342.7 317.0,346.0 319.3,342.7 321.5,348.3 323.8,350.5 326.0,360.7 328.3,355.0 330.0,358.4 332.3,352.8 335.6,351.7 338.6,350.5 340.1,352.8 341.7,370.8 344.0,374.2 346.2,361.8 349.1,362.9 351.4,365.2 353.6,368.6 355.2,364.1 357.5,370.8 359.7,364.1 362.0,375.3 363.8,384.3 366.0,385.5 368.7,392.2 370.5,393.3 372.8,384.3 375.0,376.4 377.3,374.2 379.5,380.9 382.3,383.2 384.5,371.9 386.8,376.4 389.0,375.3 391.3,375.3 393.5,369.7 395.8,358.4 398.0,349.4 400.9,351.7 402.5,352.8 404.3,349.4 406.6,364.1 408.8,371.9 411.1,378.7 413.8,376.4 416.7,375.3 418.3,375.3 420.5,379.4 422.3,374.2 424.6,357.3 426.8,351.7 429.1,346.0 431.8,323.5 434.1,332.5 436.3,341.1 439.2,336.6 440.8,334.8 443.1,338.2 446.7,336.6 448.9,350.5 451.6,356.2 453.9,361.8 456.6,360.7 458.8,352.8 461.1,358.4 463.3,370.8 465.1,377.6 467.4,367.4 469.6,371.9 471.9,378.7 474.1,382.1 476.4,378.7 478.6,374.2 482.0,373.5 485.4,375.3 488.8,377.6 491.7,371.9 494.4,377.6 495.0,377.6 497.3,384.3 500.0,392.2 502.9,394.5 505.1,384.3 507.4,388.8 509.6,385.5 511.9,388.8 514.1,401.2 516.4,399.0 518.6,402.3 520.9,399.0 523.2,387.7 525.4,390.0 527.7,358.4 529.9,378.7 532.2,377.6 534.4,376.4 536.7,377.6 540.0,380.9 542.3,383.2 545.0,390.0 547.3,384.3 550.2,383.2 552.4,384.3 554.7,375.3 556.9,373.1 559.2,379.8 561.4,377.6 563.0,378.7 565.3,369.7 567.5,375.3 570.5,374.2 572.7,374.2 576.1,364.1 578.8,358.4 581.0,364.1 583.3,363.6 585.5,371.9 587.8,376.4 590.7,376.4 593.0,376.4 594.5,374.2 596.8,382.1 599.1,382.1 601.3,374.2 603.6,376.4 605.8,388.8 607.6,387.7 609.9,388.8 612.1,369.7 614.4,376.4 616.6,365.2 618.9,355.0 621.6,358.4 623.8,357.7 626.1,361.8 629.0,355.0 631.3,351.7 633.5,352.8 635.8,347.2 639.1,351.7 641.8,339.3 644.1,337.0 646.4,336.6 649.3,340.4 652.7,343.8 655.4,344.9 657.6,347.2 659.9,345.6 662.1,342.0 665.0,341.5" stroke="#7e57c2" stroke-width="1.8" fill="none" stroke-linejoin="round"/>
<text x="9.6" y="25.9" font-size="6.8" fill="#131722" textLength="45.5" lengthAdjust="spacingAndGlyphs">SOL / TetherUS</text>
<text x="58.4" y="25.9" font-size="6.8" fill="#131722" text-anchor="middle">·</text>
<text x="62.3" y="25.9" font-size="6.8" fill="#131722" textLength="8.5" lengthAdjust="spacingAndGlyphs">1D</text>
<text x="73.3" y="25.9" font-size="6.8" fill="#131722" text-anchor="middle">·</text>
<text x="76.4" y="25.9" font-size="6.8" fill="#131722" textLength="24.7" lengthAdjust="spacingAndGlyphs">BINANCE</text>
<text x="105.2" y="25.9" font-size="6.8" fill="#131722" textLength="5.3" lengthAdjust="spacingAndGlyphs">O</text>
<text x="110.6" y="25.9" font-size="6.8" fill="#26a69a" textLength="19.4" lengthAdjust="spacingAndGlyphs">150.85</text>
<text x="133.7" y="25.9" font-size="6.8" fill="#131722" textLength="4.9" lengthAdjust="spacingAndGlyphs">H</text>
<text x="138.6" y="25.9" font-size="6.8" fill="#26a69a" textLength="19.1" lengthAdjust="spacingAndGlyphs">151.91</text>
<text x="162" y="25.9" font-size="6.8" fill="#131722" textLength="3.9" lengthAdjust="spacingAndGlyphs">L</text>
<text x="166.4" y="25.9" font-size="6.8" fill="#26a69a" textLength="19.6" lengthAdjust="spacingAndGlyphs">148.37</text>
<text x="189.6" y="25.9" font-size="6.8" fill="#131722" textLength="4.8" lengthAdjust="spacingAndGlyphs">C</text>
<text x="194.6" y="25.9" font-size="6.8" fill="#26a69a" textLength="19.3" lengthAdjust="spacingAndGlyphs">150.86</text>
<text x="217.6" y="25.9" font-size="6.8" fill="#26a69a" textLength="44.5" lengthAdjust="spacingAndGlyphs">+0.01 (+0.01%)</text>
<text x="9.9" y="35.3" font-size="6.8" fill="#131722" textLength="45.1" lengthAdjust="spacingAndGlyphs">EMA (20, close)</text>
<text x="59.9" y="35.3" font-size="6.8" fill="#2962ff" textLength="19.8" lengthAdjust="spacingAndGlyphs">142.68</text>
<text x="9.9" y="45.0" font-size="6.8" fill="#131722" textLength="45.1" lengthAdjust="spacingAndGlyphs">SMA (50, close)</text>
<text x="59.9" y="45.0" font-size="6.8" fill="#f23645" textLength="19.4" lengthAdjust="spacingAndGlyphs">132.32</text>
<text x="9.5" y="321.1" font-size="6.8" fill="#131722" textLength="42.8" lengthAdjust="spacingAndGlyphs">RSI (14, close)</text>
<text x="55.9" y="321.1" font-size="6.8" fill="#7e57c2" textLength="16.6" lengthAdjust="spacingAndGlyphs">62.52</text>
<text x="76.6" y="321.1" font-size="6.8" fill="#f5cf22" textLength="16.2" lengthAdjust="spacingAndGlyphs">61.17</text>
<text x="98.3" y="321.1" font-size="6.8" fill="#2a2e39" text-anchor="middle">Ø</text>
<text x="107.3" y="321.1" font-size="6.8" fill="#2a2e39" text-anchor="middle">Ø</text>
<text x="115.9" y="321.1" font-size="6.8" fill="#2a2e39" text-anchor="middle">Ø</text>
<text x="124.5" y="321.1" font-size="6.8" fill="#2a2e39" text-anchor="middle">Ø</text>
<text x="730.6" y="26.70" font-size="7" fill="#131722" textLength="20" lengthAdjust="spacingAndGlyphs">300.00</text>
<text x="730.6" y="53.10" font-size="7" fill="#131722" textLength="20" lengthAdjust="spacingAndGlyphs">280.00</text>
<text x="730.6" y="105.90" font-size="7" fill="#131722" textLength="20" lengthAdjust="spacingAndGlyphs">240.00</text>
<text x="730.6" y="132.30" font-size="7" fill="#131722" textLength="20" lengthAdjust="spacingAndGlyphs">220.00</text>
<text x="730.6" y="158.70" font-size="7" fill="#131722" textLength="20" lengthAdjust="spacingAndGlyphs">200.00</text>
<text x="730.6" y="185.10" font-size="7" fill="#131722" textLength="20" lengthAdjust="spacingAndGlyphs">180.00</text>
<text x="730.6" y="211.50" font-size="7" fill="#131722" textLength="20" lengthAdjust="spacingAndGlyphs">160.00</text>
<text x="730.6" y="237.90" font-size="7" fill="#131722" textLength="20" lengthAdjust="spacingAndGlyphs">140.00</text>
<text x="730.6" y="290.70" font-size="7" fill="#131722" textLength="20" lengthAdjust="spacingAndGlyphs">100.00</text>
<text x="730.7" y="315.15" font-size="7" fill="#131722" textLength="16.5" lengthAdjust="spacingAndGlyphs">80.00</text>
<text x="730.7" y="380.95" font-size="7" fill="#131722" textLength="16.5" lengthAdjust="spacingAndGlyphs">40.00</text>
<rect x="727.6" y="17.2" width="32.8" height="14.6" rx="2.2" fill="#fff" stroke="#ececf0" stroke-width="0.9"/>
<text x="732.8" y="27" font-size="7" fill="#131722" textLength="15.6" lengthAdjust="spacingAndGlyphs">USDT</text>
<path d="M725.5 72.4H752.3Q753.5 72.4 753.5 73.60000000000001V80.39999999999999Q753.5 81.6 752.3 81.6H725.5Z" fill="#0000ff"/>
<text x="731.1" y="79.50" font-size="7" fill="#fff" textLength="19.2" lengthAdjust="spacingAndGlyphs" stroke="#fff" stroke-width="0.12">260.00</text>
<rect x="725.5" y="206.9" width="28.00" height="9.30" fill="#0000ff"/>
<text x="731.1" y="214.05" font-size="7" fill="#fff" textLength="19.2" lengthAdjust="spacingAndGlyphs" stroke="#fff" stroke-width="0.12">153.00</text>
<path d="M725.5 216.2H758.6Q759.8 216.2 759.8 217.4V239.9Q759.8 241.1 758.6 241.1H725.5Z" fill="#26a69a"/>
<text x="731.1" y="223.8" font-size="7" fill="#fff" textLength="19.2" lengthAdjust="spacingAndGlyphs" stroke="#fff" stroke-width="0.12">150.86</text>
<text x="731.1" y="232.0" font-size="7" fill="#fff" textLength="21.5" lengthAdjust="spacingAndGlyphs" stroke="#fff" stroke-width="0.12">+11.15%</text>
<text x="731.1" y="239.8" font-size="7" fill="#fff" textLength="24.6" lengthAdjust="spacingAndGlyphs" stroke="#fff" stroke-width="0.12">07:50:58</text>
<path d="M695.9 216.1H725.5V225.5H695.9Q694.7 225.5 694.7 224.3V217.3Q694.7 216.1 695.9 216.1Z" fill="#26a69a"/>
<text x="696.8" y="223.3" font-size="7" fill="#fff" textLength="26" lengthAdjust="spacingAndGlyphs" stroke="#fff" stroke-width="0.12">SOLUSDT</text>
<rect x="725.5" y="241.3" width="27.80" height="9.60" fill="#0000ff"/>
<text x="731.1" y="248.60" font-size="7" fill="#fff" textLength="19.2" lengthAdjust="spacingAndGlyphs" stroke="#fff" stroke-width="0.12">148.00</text>
<rect x="708.2" y="250.9" width="17.30" height="9.40" fill="#4a7bf7"/>
<text x="711" y="258.10" font-size="7" fill="#fff" textLength="12" lengthAdjust="spacingAndGlyphs" stroke="#fff" stroke-width="0.12">EMA</text>
<rect x="725.5" y="250.9" width="27.80" height="9.40" fill="#4a7bf7"/>
<text x="731.1" y="258.10" font-size="7" fill="#fff" textLength="19.2" lengthAdjust="spacingAndGlyphs" stroke="#fff" stroke-width="0.12">142.68</text>
<rect x="697.8" y="260.3" width="27.70" height="9.20" fill="#f23645"/>
<text x="700.5" y="267.40" font-size="7" fill="#fff" textLength="22.6" lengthAdjust="spacingAndGlyphs" stroke="#fff" stroke-width="0.12">SMA:MA</text>
<rect x="725.5" y="260.3" width="27.80" height="9.20" fill="#f23645"/>
<text x="731.1" y="267.40" font-size="7" fill="#fff" textLength="19.2" lengthAdjust="spacingAndGlyphs" stroke="#fff" stroke-width="0.12">132.32</text>
<rect x="725.5" y="269.5" width="27.80" height="9.90" fill="#0000ff"/>
<text x="731.1" y="276.95" font-size="7" fill="#fff" textLength="19.2" lengthAdjust="spacingAndGlyphs" stroke="#fff" stroke-width="0.12">120.00</text>
<rect x="725.5" y="279.4" width="27.80" height="9.50" fill="#0000ff"/>
<text x="731.1" y="286.65" font-size="7" fill="#fff" textLength="19.2" lengthAdjust="spacingAndGlyphs" stroke="#fff" stroke-width="0.12">110.00</text>
<rect x="712" y="337" width="13.50" height="9.00" fill="#7e57c2"/>
<text x="714.3" y="344.00" font-size="7" fill="#fff" textLength="9.5" lengthAdjust="spacingAndGlyphs" stroke="#fff" stroke-width="0.12">RSI</text>
<rect x="725.5" y="337" width="24.50" height="9.00" fill="#7e57c2"/>
<text x="731.1" y="344.00" font-size="7" fill="#fff" textLength="16" lengthAdjust="spacingAndGlyphs" stroke="#fff" stroke-width="0.12">62.52</text>
<rect x="681.4" y="346.8" width="44.10" height="8.80" fill="#fdea45"/>
<text x="683.6" y="353.70" font-size="7" fill="#131722" textLength="39.5" lengthAdjust="spacingAndGlyphs" stroke="#131722" stroke-width="0.12">RSI-based MA</text>
<rect x="725.5" y="346.8" width="24.50" height="8.80" fill="#fdea45"/>
<text x="731.1" y="353.70" font-size="7" fill="#131722" textLength="16" lengthAdjust="spacingAndGlyphs" stroke="#131722" stroke-width="0.12">61.17</text>
<text x="51" y="418.8" font-size="6.5" fill="#131722" text-anchor="middle">Aug</text>
<text x="120" y="418.8" font-size="6.5" fill="#131722" text-anchor="middle">Sep</text>
<text x="187.5" y="418.8" font-size="6.5" fill="#131722" text-anchor="middle">Oct</text>
<text x="256.5" y="418.8" font-size="6.5" fill="#131722" text-anchor="middle">Nov</text>
<text x="323.5" y="418.8" font-size="6.5" fill="#131722" text-anchor="middle">Dec</text>
<text x="393.4" y="418.8" font-size="6.5" fill="#131722" text-anchor="middle" font-weight="bold" textLength="15.6" lengthAdjust="spacingAndGlyphs">2025</text>
<text x="462.5" y="418.8" font-size="6.5" fill="#131722" text-anchor="middle">Feb</text>
<text x="525.5" y="418.8" font-size="6.5" fill="#131722" text-anchor="middle">Mar</text>
<text x="594.5" y="418.8" font-size="6.5" fill="#131722" text-anchor="middle">Apr</text>
<text x="662" y="418.8" font-size="6.5" fill="#131722" text-anchor="middle">May</text>
<g transform="translate(664.5 302.1)"><path d="M1.9 -5.3 A5.55 5.55 0 1 0 5.4 -1.4" stroke="#9f45c4" stroke-width="1.25" fill="none"/><path d="M1.7 -3.1 L-2.0 0.7 L-0.1 0.7 L-1.5 3.3 L2.1 -0.7 L0.3 -0.7 Z" fill="#9f45c4" stroke="#9f45c4" stroke-width="0.35" stroke-linejoin="round"/><circle cx="4" cy="-3.4" r="1.6" fill="#f7262c"/></g>
<g fill="#131722"><path d="M5.2 431.1H9.2V436.6H7.1V433H5.2Z"/><circle cx="11" cy="432.1" r="1.05"/><path d="M13.4 431.1H15.8L13.5 436.6H11.2Z"/></g>
<text x="18.2" y="436.9" font-size="7.6" fill="#131722" textLength="38.6" lengthAdjust="spacingAndGlyphs">TradingView</text>
</svg></body></html>
